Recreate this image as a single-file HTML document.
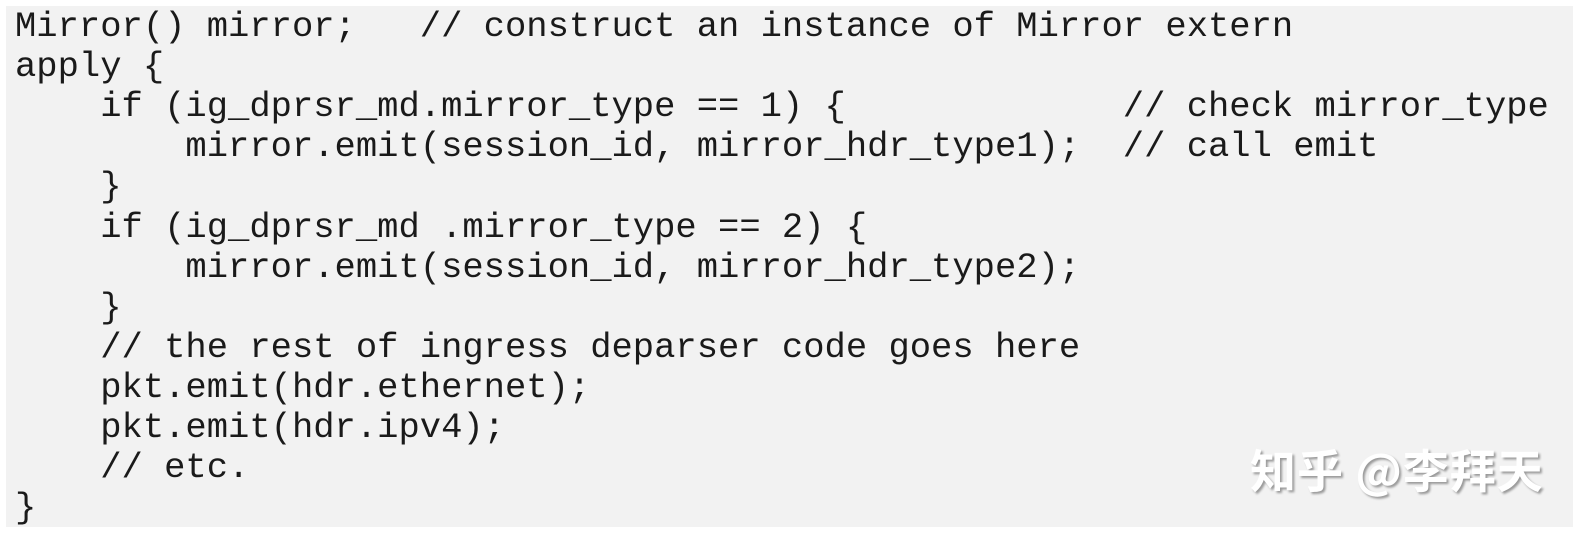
<!DOCTYPE html>
<html><head><meta charset="utf-8"><style>
html,body{margin:0;padding:0;background:#fff;width:1586px;height:534px;overflow:hidden;}
.box{position:absolute;left:6px;top:6px;width:1567px;height:521px;background:#f2f2f2;}
.l{position:absolute;left:15px;margin:0;white-space:pre;font-family:"Liberation Mono",monospace;font-size:35.5px;line-height:40px;height:40px;color:#1a1a1a;}
.wm{position:absolute;left:1250px;top:436px;font-family:"Noto Sans CJK SC",sans-serif;font-size:46px;font-weight:bold;color:#fff;text-shadow:2px 2px 2px #999;letter-spacing:1px;}
</style></head><body>
<div class="box"></div>
<div class="l" style="top:7px">Mirror() mirror;   // construct an instance of Mirror extern</div>
<div class="l" style="top:47.1px">apply {</div>
<div class="l" style="top:87.2px">    if (ig_dprsr_md.mirror_type == 1) {             // check mirror_type</div>
<div class="l" style="top:127.3px">        mirror.emit(session_id, mirror_hdr_type1);  // call emit</div>
<div class="l" style="top:167.4px">    }</div>
<div class="l" style="top:207.5px">    if (ig_dprsr_md .mirror_type == 2) {</div>
<div class="l" style="top:247.6px">        mirror.emit(session_id, mirror_hdr_type2);</div>
<div class="l" style="top:287.7px">    }</div>
<div class="l" style="top:327.8px">    // the rest of ingress deparser code goes here</div>
<div class="l" style="top:367.9px">    pkt.emit(hdr.ethernet);</div>
<div class="l" style="top:408px">    pkt.emit(hdr.ipv4);</div>
<div class="l" style="top:448.1px">    // etc.</div>
<div class="l" style="top:488.2px">}</div>
<div class="wm">知乎 @李拜天</div>
</body></html>
